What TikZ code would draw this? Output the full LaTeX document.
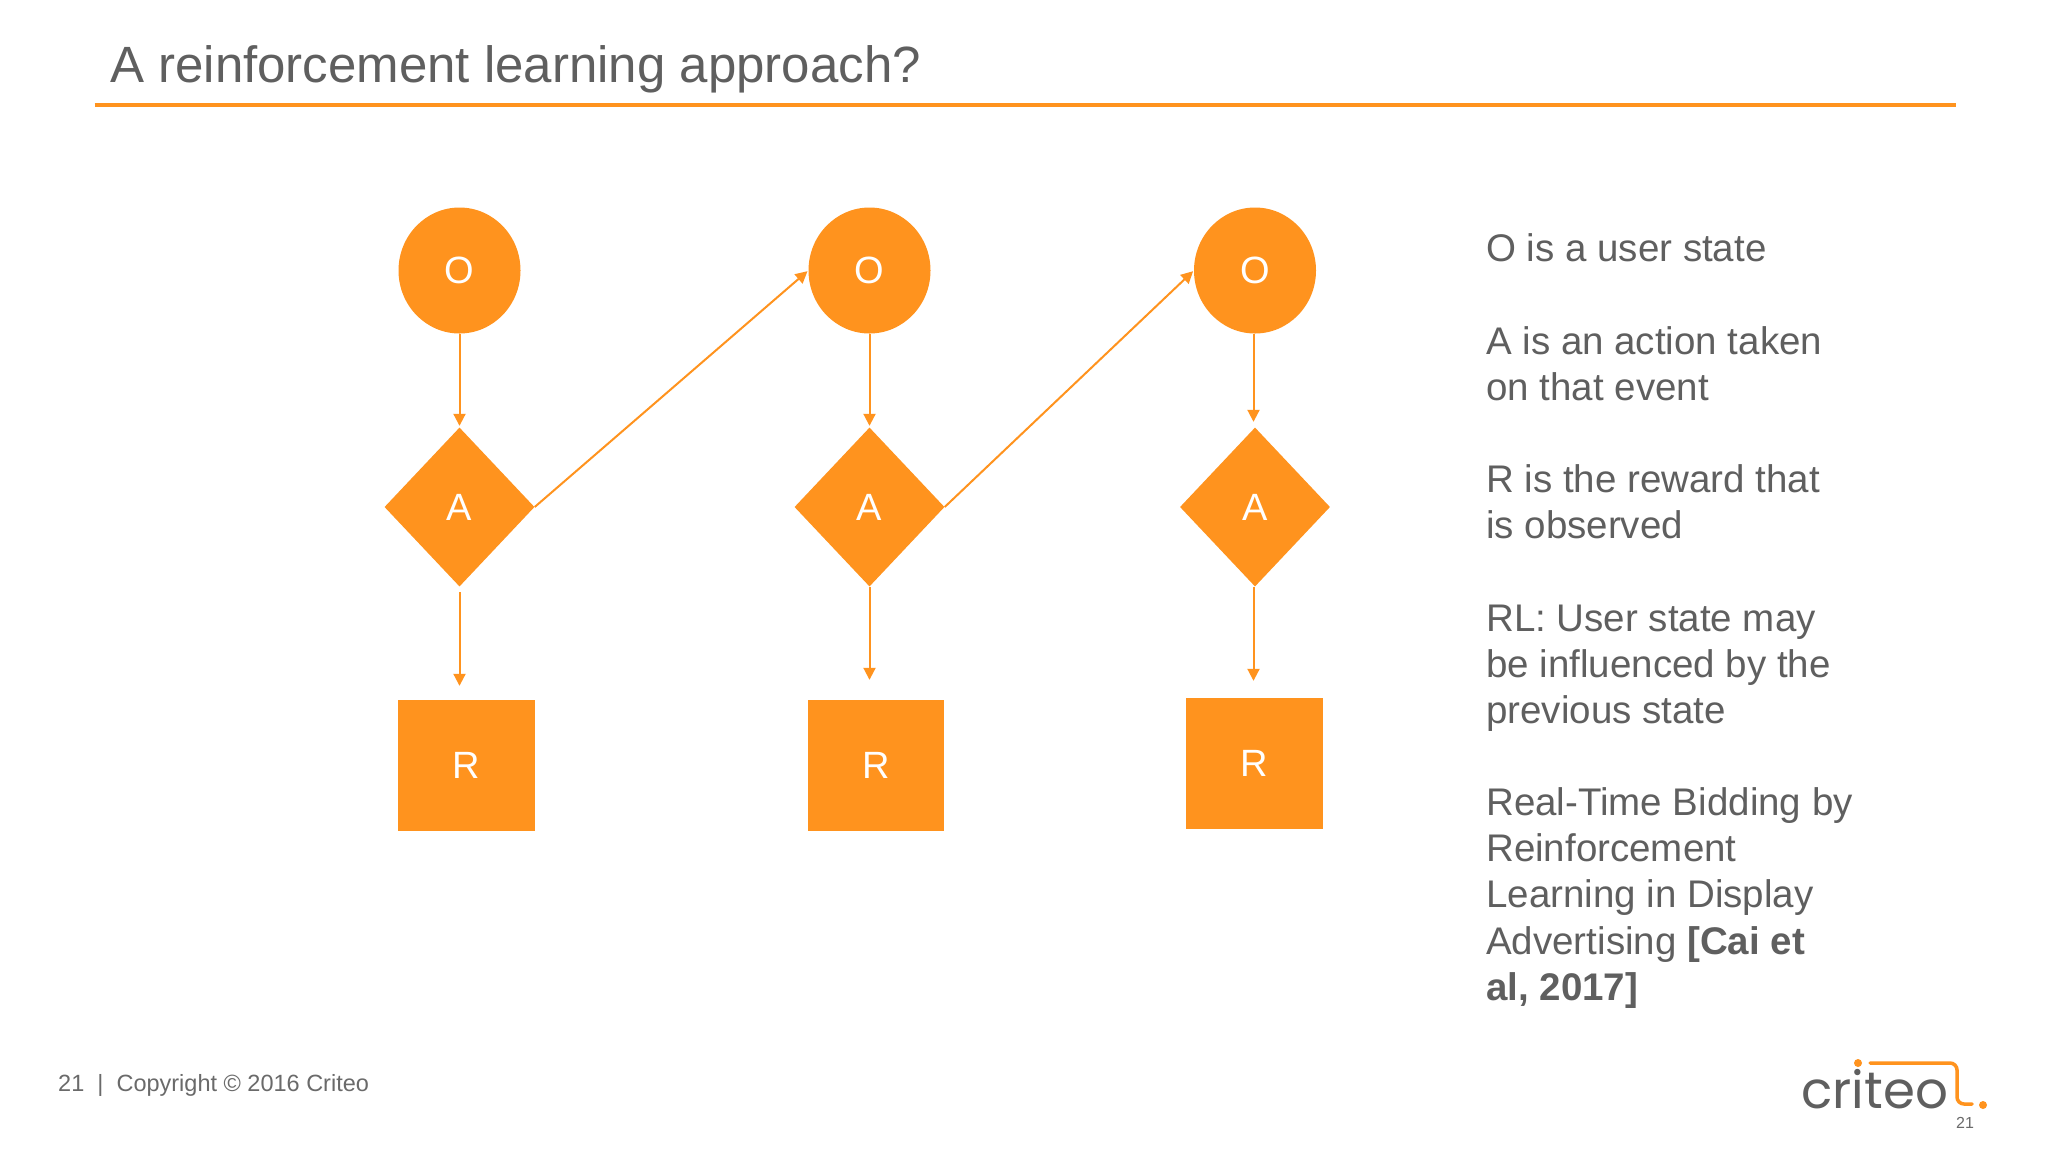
\documentclass[tikz,border=0pt]{standalone}
\usepackage{fontspec}
\setmainfont{Liberation Sans}
\newfontfamily\logofont{Poppins}
\usetikzlibrary{shapes.geometric,arrows.meta}
\definecolor{crorange}{HTML}{FF931E}
\definecolor{crtext}{HTML}{5F5F5F}
\definecolor{crfoot}{HTML}{6A6A6A}
\tikzset{
  x=1pt,y=-1pt,
  shapelabel/.style={fill=crorange,text=white,inner sep=0pt,font=\fontsize{38}{44}\selectfont},
  statenode/.style={shapelabel,ellipse,minimum width=122pt,minimum height=126pt},
  actionnode/.style={shapelabel,diamond,minimum width=150pt,minimum height=159pt},
  rewardnode/.style={shapelabel,rectangle,minimum width=136.5pt,minimum height=131pt},
  flow/.style={draw=crorange,line width=2pt,-{Triangle[length=12pt,width=12pt]}},
}
\begin{document}
\begin{tikzpicture}
\useasboundingbox (0,0) rectangle (2048,1152);
\fill[white] (0,0) rectangle (2048,1152);
% header
\node[anchor=base west,inner sep=0pt,text=crtext,font=\fontsize{51}{60}\selectfont] (title) at (110,82) {A reinforcement learning approach?};
\coordinate (ruleL) at (94.5,105);
\coordinate (ruleR) at (1955.5,105);
\draw[crorange,line width=4.5pt] (ruleL) -- (ruleR);
% nodes
\node[statenode] (o1) at (459.5,270.5) {O};
\node[statenode] (o2) at (869.5,270.5) {O};
\node[statenode] (o3) at (1255,270.5) {O};
\node[actionnode] (a1) at (459.5,507) {A};
\node[actionnode] (a2) at (869.5,507) {A};
\node[actionnode] (a3) at (1255,507) {A};
\node[rewardnode] (r1) at (466.5,765.5) {R};
\node[rewardnode] (r2) at (876,765.5) {R};
\node[rewardnode] (r3) at (1254.5,763) {R};
% connectors
\draw[flow,shorten >=1.5pt] (o1.south) -- (a1.north);
\draw[flow,shorten >=1.5pt] (o2.south) -- (a2.north);
\draw[flow,shorten >=5.5pt] ([xshift=-1.5pt]o3.south) -- ([xshift=-1.5pt]a3.north);
\draw[flow,shorten >=1pt] (a1.east) -- (o2.west);
\draw[flow,shorten >=1pt] (a2.east) -- (o3.west);
\draw[flow,shorten <=5.5pt,shorten >=14pt] (a1.south) -- (a1.south |- r1.north);
\draw[flow,shorten >=20pt] (a2.south) -- (a2.south |- r2.north);
\draw[flow,shorten >=16.5pt] ([xshift=-1.5pt]a3.south) -- ([xshift=-1.5pt]a3.south |- r3.north);
% legend
\node[anchor=north west,inner sep=0pt,align=left,text=crtext,font=\fontsize{38.5}{46.15}\selectfont] (legend) at (1486,233.7) {%
O is a user state\\[46.15pt]
A is an action taken\\
on that event\\[46.15pt]
R is the reward that\\
is observed\\[46.15pt]
RL: User state may\\
be influenced by the\\
previous state\\[46.15pt]
Real-Time Bidding by\\
Reinforcement\\
Learning in Display\\
Advertising \textbf{[Cai et}\\
\textbf{al, 2017]}};
% footer
\node[anchor=base west,inner sep=0pt,text=crfoot,font=\fontsize{23.5}{28}\selectfont] (footer) at (58,1091.5) {21~~|~~Copyright © 2016 Criteo};
% logo
\node[anchor=base west,inner sep=0pt,text=crtext,font=\logofont\fontsize{51.5}{60}\selectfont] (logo) at (1801,1108) {criteo};
\coordinate (lgA) at (1870,1063);
\coordinate (lgB) at (1957,1063);
\coordinate (lgC) at (1957,1104);
\coordinate (lgD) at (1972,1104);
\draw[crorange,line width=3.5pt,rounded corners=7pt,line cap=round] (lgA) -- (lgB) -- (lgC) -- (lgD);
\node[circle,fill=crorange,minimum size=8pt,inner sep=0pt] (dotA) at (1858,1063) {};
\node[circle,fill=crorange,minimum size=8pt,inner sep=0pt] (dotB) at (1983,1105) {};
\node[inner sep=0pt,text=crfoot,font=\fontsize{16}{18}\selectfont] (pagenum) at (1965,1123) {21};
\end{tikzpicture}
\end{document}
